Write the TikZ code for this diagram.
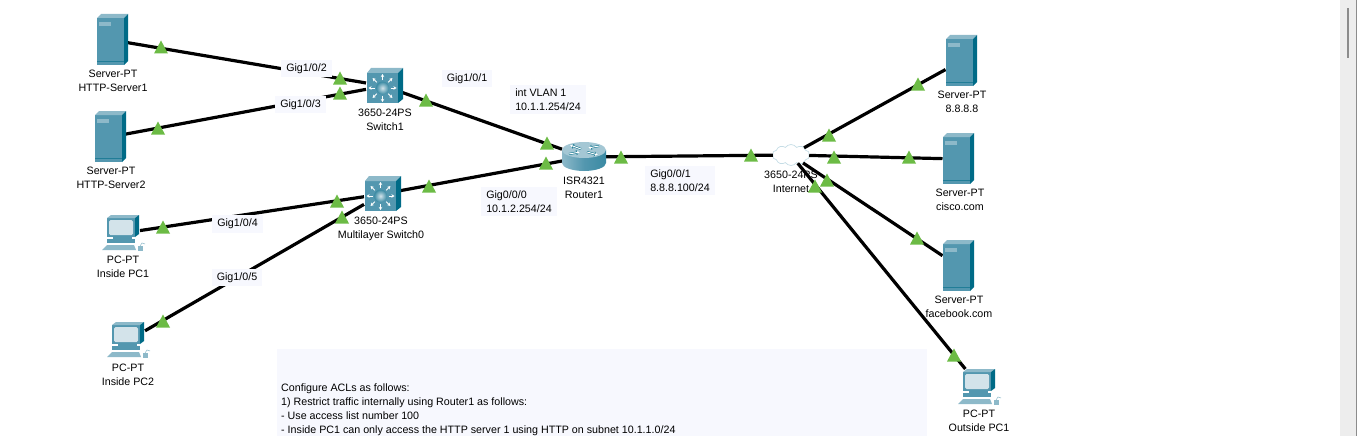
\documentclass[tikz,border=0pt]{standalone}
\usepackage{fontspec}
\setmainfont{Liberation Sans}
\usetikzlibrary{arrows.meta,shapes.symbols}
\definecolor{linkgreen}{HTML}{6CBB45}
\definecolor{tagfill}{HTML}{F7F8FE}
\definecolor{pcfront}{HTML}{5397AF}
\definecolor{pcdark}{HTML}{006B87}
\definecolor{pclight}{HTML}{8DB9C9}
\definecolor{pcscreen}{HTML}{D3E3EA}
\definecolor{cloudedge}{HTML}{C5DDE6}
\tikzset{
   device/.style={inner sep=0pt, outer sep=0pt},
   link/.style={line width=3.2pt, black},
   devtext/.style={font=\fontsize{10.7}{14}\selectfont, align=center, inner sep=0pt},
   tagbox/.style={font=\fontsize{10.7}{14}\selectfont, align=left, fill=tagfill, inner xsep=5pt, inner ysep=4pt},
   serverpic/.pic={
      \fill[pcfront] (-15,-22) rectangle (12,25);
      \fill[pclight] (-15,-22) -- (-11,-26) -- (16,-26) -- (12,-22) -- cycle;
      \fill[pcdark] (12,-22) -- (16,-26) -- (16,21) -- (12,25) -- cycle;
      \fill[pclight] (-13,-18) rectangle (-1,-14);
      \draw[pcdark!60!pcfront, line width=.6pt] (-15,21) -- (12,21);
   },
   pcpic/.pic={
      \fill[pcfront] (-17,-15) rectangle (11,4);
      \fill[pclight] (-17,-15) -- (-13,-18) -- (15,-18) -- (11,-15) -- cycle;
      \fill[pcdark] (11,-15) -- (15,-18) -- (15,1) -- (11,4) -- cycle;
      \fill[pcscreen, rounded corners=1.5pt] (-15,-13) rectangle (9,2);
      \fill[pcfront] (-11,4) rectangle (8,6);
      \fill[pcfront] (-17,6) rectangle (11,10);
      \fill[pclight] (-17,12) -- (10,12) -- (12,17) -- (-22,17) -- cycle;
      \fill[pclight] (14,13) rectangle (19,18);
      \draw[pclight, line width=.5pt] (16,13) -- (18,10) -- (21,11);
   },
   switchpic/.pic={
      \fill[pcfront] (-17,-13) rectangle (14,17);
      \fill[pclight] (-17,-13) -- (-13,-18) -- (19,-18) -- (14,-13) -- cycle;
      \fill[pcdark] (14,-13) -- (19,-18) -- (19,13) -- (14,17) -- cycle;
      \begin{scope}[shift={(-1.5,2)}]
         \foreach \a in {0, 45, ..., 315} {
            \draw[white, line width=.8pt, -{Stealth[length=3pt,width=3.5pt]}] (\a:8) -- (\a:14);
         }
         \shade[inner color=pcscreen, outer color=pcfront!70!pcdark] (0,0) circle(6.5);
      \end{scope}
   },
   routerpic/.pic={
      \shade[left color=pclight, right color=pcfront!70!pcdark, middle color=pcfront]
         (-22,-7) -- (-22,6) arc(180:0:22 and 8) -- (22,-7) -- cycle;
      \fill[pclight!80!white] (0,-7) ellipse(22 and 8);
      \foreach \xa/\ya/\xb/\yb in {-3/-8/-14/-12, -15/-3/-4/-5, 15/-11/4/-9, 3/-5/14/-2} {
         \draw[pcdark, line width=2pt, -{Stealth[length=4pt,width=5pt]}] (\xa,\ya) -- (\xb,\yb);
         \draw[white, line width=1pt, -{Stealth[length=3pt,width=3.5pt]}] (\xa,\ya) -- (\xb,\yb);
      }
   }
}
\begin{document}
\begin{tikzpicture}[x=1pt, y=-1pt]
   \useasboundingbox (0,0) rectangle (1357,436);
   % end devices and switches
   \node[device, minimum width=31pt, minimum height=51pt] (srvA) at (112,40) {};
   \node[device, minimum width=31pt, minimum height=51pt] (srvB) at (110,137) {};
   \node[device, minimum width=32pt, minimum height=36pt] (pcA) at (124,233) {};
   \node[device, minimum width=32pt, minimum height=36pt] (pcB) at (129,340) {};
   \node[device, minimum width=36pt, minimum height=35pt] (swA) at (384,86) {};
   \node[device, minimum width=36pt, minimum height=35pt] (swB) at (382,194) {};
   \node[device, minimum width=44pt, minimum height=30pt] (rtr) at (584,157) {};
   \node[device, minimum width=31pt, minimum height=51pt] (srvC) at (961,61) {};
   \node[device, minimum width=31pt, minimum height=51pt] (srvD) at (958,159) {};
   \node[device, minimum width=31pt, minimum height=51pt] (srvE) at (958,266) {};
   \node[device, minimum width=32pt, minimum height=36pt] (pcC) at (980,387) {};
   \node[device, cloud, cloud puffs=10, cloud puff arc=110, minimum width=37pt, minimum height=21pt, draw=cloudedge, fill=white, line width=.7pt] (inet) at (791,155) {};
   % links
   \draw[link] (srvA) -- (swA);
   \draw[link] (srvB) -- (swA);
   \draw[link] (pcA) -- (swB);
   \draw[link] (pcB) -- (swB);
   \draw[link] (swA) -- (rtr);
   \draw[link] (swB) -- (rtr);
   \draw[link] (rtr) -- (inet);
   \draw[link] (inet) -- (srvC);
   \draw[link] (inet) -- (srvD);
   \draw[link] (inet) -- (srvE);
   \draw[link] (inet) -- (pcC);
   % icons
   \pic at (srvA) {serverpic};
   \pic at (srvB) {serverpic};
   \pic at (srvC) {serverpic};
   \pic at (srvD) {serverpic};
   \pic at (srvE) {serverpic};
   \pic at (pcA) {pcpic};
   \pic at (pcB) {pcpic};
   \pic at (pcC) {pcpic};
   \pic at (swA) {switchpic};
   \pic at (swB) {switchpic};
   \pic at (rtr) {routerpic};
   % port labels
   \node[tagbox] (tagA) at (306.5,68.5) {Gig1/0/2};
   \node[tagbox] (tagB) at (300.5,104.5) {Gig1/0/3};
   \node[tagbox] (tagC) at (467,78.5) {Gig1/0/1};
   \node[tagbox] (tagD) at (237.5,224) {Gig1/0/4};
   \node[tagbox] (tagE) at (237,277.5) {Gig1/0/5};
   \node[tagbox] (tagF) at (548,99.5) {int VLAN 1\\10.1.1.254/24};
   \node[tagbox] (tagG) at (519,201.5) {Gig0/0/0\\10.1.2.254/24};
   \node[tagbox] (tagH) at (680,180.5) {Gig0/0/1\\8.8.8.100/24};
   % device names
   \node[devtext] (txtA) at (113,80.5) {Server-PT\\HTTP-Server1};
   \node[devtext] (txtB) at (111,177.5) {Server-PT\\HTTP-Server2};
   \node[devtext] (txtC) at (123,266.5) {PC-PT\\Inside PC1};
   \node[devtext] (txtD) at (128,374.5) {PC-PT\\Inside PC2};
   \node[devtext] (txtE) at (385,119.5) {3650-24PS\\Switch1};
   \node[devtext] (txtF) at (381,228.5) {3650-24PS\\Multilayer Switch0};
   \node[devtext] (txtG) at (584,187.5) {ISR4321\\Router1};
   \node[devtext] (txtH) at (791,181.5) {3650-24PS\\Internet};
   \node[devtext] (txtI) at (962,101.5) {Server-PT\\8.8.8.8};
   \node[devtext] (txtJ) at (960,199.5) {Server-PT\\cisco.com};
   \node[devtext] (txtK) at (959,306.5) {Server-PT\\facebook.com};
   \node[devtext] (txtL) at (979,420.5) {PC-PT\\Outside PC1};
   % notes
   \fill[tagfill] (277,349) rectangle (927,436);
   \node[devtext, align=left, anchor=west] (notes) at (281,409.5) {Configure ACLs as follows:\\1) Restrict traffic internally using Router1 as follows:\\- Use access list number 100\\- Inside PC1 can only access the HTTP server 1 using HTTP on subnet 10.1.1.0/24};
   % link lights
   \foreach \x/\y in {161/47, 340/78, 340/93, 158/128, 426/100, 429/186, 163/227, 337/201, 342/217, 163/321,
         547/143, 546/163, 621/157, 751/155, 829/135, 918/84, 834/157, 909/157, 827/180, 815/186, 917/238, 954/355} {
      \fill[linkgreen] (\x,\y) ++(-7,6.5) -- ++(14,0) -- ++(-7,-13) -- cycle;
   }
   % window scrollbar
   \fill[black!7] (1340,0) rectangle (1356,436);
   \fill[black!45] (1356,0) rectangle (1357,436);
   \fill[black!45] (1347,8) rectangle (1349,58);
\end{tikzpicture}
\end{document}
